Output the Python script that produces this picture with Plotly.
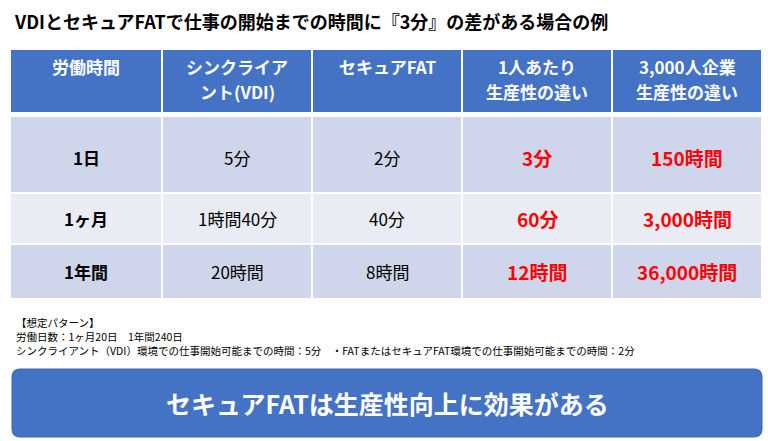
import plotly.graph_objects as go

title = "VDIとセキュアFATで仕事の開始までの時間に『3分』の差がある場合の例"
headers = [["労働時間"], ["シンクライア", "ント(VDI)"], ["セキュアFAT"], ["1人あたり", "生産性の違い"], ["3,000人企業", "生産性の違い"]]
periods = ["1日", "1ヶ月", "1年間"]
vdi_time = ["5分", "1時間40分", "20時間"]
fat_time = ["2分", "40分", "8時間"]
per_person = ["3分", "60分", "12時間"]
per_company = ["150時間", "3,000時間", "36,000時間"]
notes = ["【想定パターン】", "労働日数：1ヶ月20日　1年間240日",
         "シンクライアント（VDI）環境での仕事開始可能までの時間：5分　・FATまたはセキュアFAT環境での仕事開始可能までの時間：2分"]
banner = "セキュアFATは生産性向上に効果がある"

W, H = 768, 441
col_edges = [10, 162, 312, 462, 612, 762]
row_edges = [(117, 192), (194, 243), (245, 298)]
row_fill = ["#CFD5EA", "#E9EBF5", "#CFD5EA"]
FONT = "Noto Sans CJK JP"
BLUE = "#4472C4"

shapes, ann = [], []
def Y(y): return H - y

for i in range(5):
    x0, x1 = col_edges[i] + 1, col_edges[i + 1] - 1
    shapes.append(dict(type="rect", x0=x0, x1=x1, y0=Y(112), y1=Y(50), fillcolor=BLUE, line_width=0, layer="below"))
    for k, line in enumerate(headers[i]):
        ann.append(dict(x=(x0 + x1) / 2, y=Y(66 + 25 * k), text=line, showarrow=False,
                        font=dict(family=FONT, size=17, color="white", weight="bold")))
    for r, (a, b) in enumerate(row_edges):
        shapes.append(dict(type="rect", x0=x0, x1=x1, y0=Y(b), y1=Y(a), fillcolor=row_fill[r], line_width=0, layer="below"))

cols = [periods, vdi_time, fat_time, per_person, per_company]
for c, vals in enumerate(cols):
    xc = (col_edges[c] + col_edges[c + 1]) / 2
    for r, v in enumerate(vals):
        a, b = row_edges[r]
        yc = (a + b) / 2 + (3 if r == 0 else 0)
        bold = c in (0, 3, 4)
        color = "#FF0000" if c >= 3 else "black"
        size = 19 if c >= 3 else 17
        ann.append(dict(x=xc, y=Y(yc), text=v, showarrow=False,
                        font=dict(family=FONT, size=size, color=color, weight="bold" if bold else "normal")))

ann.append(dict(x=12, y=Y(21), text=title, xanchor="left", showarrow=False,
                font=dict(family=FONT, size=18, color="black", weight="bold")))
for k, t in enumerate(notes):
    ann.append(dict(x=14, y=Y(322 + k * 14), text=t, xanchor="left", showarrow=False, height=14,
                    font=dict(family=FONT, size=10.5, color="black")))

shapes.append(dict(type="path", path="M 20,%d L 754,%d Q 762,%d 762,%d L 762,%d Q 762,%d 754,%d L 20,%d Q 12,%d 12,%d L 12,%d Q 12,%d 20,%d Z" %
                   (Y(369), Y(369), Y(369), Y(377), Y(429), Y(437), Y(437), Y(437), Y(437), Y(429), Y(377), Y(369), Y(369)),
                   fillcolor=BLUE, line=dict(color="#3B64AD", width=1), layer="below"))
ann.append(dict(x=387, y=Y(403), text=banner, showarrow=False,
                font=dict(family=FONT, size=25, color="white", weight="bold")))

fig = go.Figure()
fig.update_layout(width=W, height=H, margin=dict(l=0, r=0, t=0, b=0),
                  paper_bgcolor="white", plot_bgcolor="white",
                  xaxis=dict(range=[0, W], visible=False, fixedrange=True),
                  yaxis=dict(range=[0, H], visible=False, fixedrange=True),
                  shapes=shapes, annotations=ann, showlegend=False)
fig.write_html("out.html", config={"displayModeBar": False},
               post_script="document.body.style.margin='0';document.body.style.overflow='hidden';")
